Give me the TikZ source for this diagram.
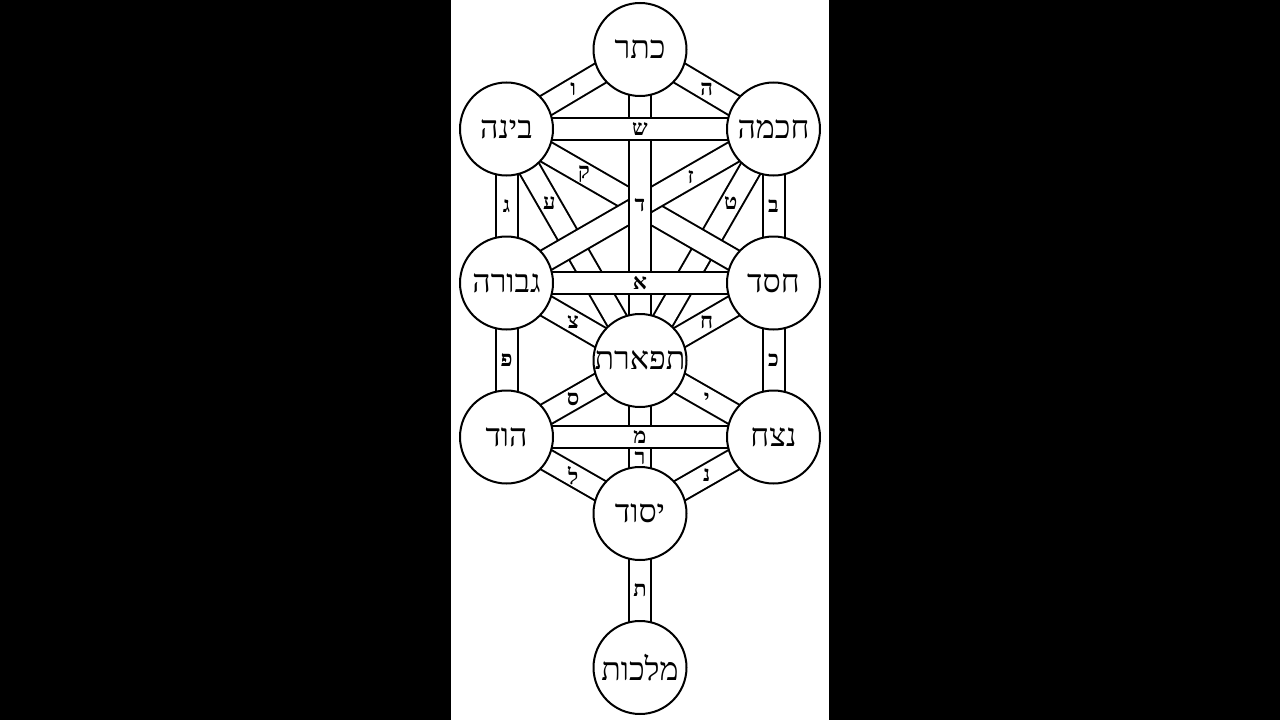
\documentclass[tikz,border=0pt]{standalone}
\usepackage{fontspec}
\newfontfamily\hebfont[Script=Hebrew]{Liberation Serif}
\TeXXeTstate=1
\pgfdeclarelayer{back}
\pgfsetlayers{back,main}

\begin{document}
\begin{tikzpicture}[x=1pt,y=1pt,yscale=-1,
  sefira/.style={circle,draw,line width=2pt,fill=white,minimum size=93pt,inner sep=0pt,
    font=\hebfont\fontsize{32}{32}\selectfont},
  channel/.style={draw=black,line width=2pt,double=white,double distance=20pt},
  letter/.style={inner sep=0pt,font=\hebfont\bfseries\fontsize{22}{22}\selectfont}]

%Shape: Circle -- the ten sefirot
\node[sefira] (keter)   at (640,49.5)  {\beginR כתר\endR};
\node[sefira] (binah)   at (506.5,129) {\beginR בינה\endR};
\node[sefira] (chokhma) at (773.5,129) {\beginR חכמה\endR};
\node[sefira] (gevura)  at (506.5,283) {\beginR גבורה\endR};
\node[sefira] (chesed)  at (773.5,283) {\beginR חסד\endR};
\node[sefira] (tiferet) at (640,360.5) {\beginR תפארת\endR};
\node[sefira] (hod)     at (506.5,437) {\beginR הוד\endR};
\node[sefira] (netzach) at (773.5,437) {\beginR נצח\endR};
\node[sefira] (yesod)   at (640,513.5) {\beginR יסוד\endR};
\node[sefira] (malkhut) at (640,667.5) {\beginR מלכות\endR};

\begin{pgfonlayer}{back}
%Shape: Rectangle
\fill[black] (0,0) rectangle (1280,720);
\fill[white] (451,0) rectangle (829,720);

%Straight Lines -- upper channels
\draw[channel] (keter.center) -- node[letter] {ו} (binah.center);
\draw[channel] (keter.center) -- node[letter] {ה} (chokhma.center);
\draw[channel] (binah.center) -- node[letter] {ג} (gevura.center);
\draw[channel] (chokhma.center) -- node[letter] {ב} (chesed.center);
\draw[channel] (gevura.center) -- node[letter] {פ} (hod.center);
\draw[channel] (chesed.center) -- node[letter] {כ} (netzach.center);

%Straight Lines -- long diagonals
\draw[channel] (binah.center) -- node[letter,pos=.32] {ע} (tiferet.center);
\draw[channel] (chokhma.center) -- node[letter,pos=.32] {ט} (tiferet.center);
\draw[channel] (binah.center) -- node[letter,pos=.29] {ק} (chesed.center);
\draw[channel] (chokhma.center) -- node[letter,pos=.31] {ז} (gevura.center);

%Straight Lines -- middle pillar
\draw[channel] (keter.center) -- node[letter] {ד} (tiferet.center);

%Straight Lines -- lower diagonals
\draw[channel] (gevura.center) -- node[letter] {צ} (tiferet.center);
\draw[channel] (chesed.center) -- node[letter] {ח} (tiferet.center);
\draw[channel] (tiferet.center) -- node[letter] {ס} (hod.center);
\draw[channel] (tiferet.center) -- node[letter] {י} (netzach.center);
\draw[channel] (hod.center) -- node[letter] {ל} (yesod.center);
\draw[channel] (netzach.center) -- node[letter] {נ} (yesod.center);
\draw[channel] (tiferet.center) -- node[letter,pos=.64] {ר} (yesod.center);

%Straight Lines -- horizontals
\draw[channel] (binah.center) -- node[letter] {ש} (chokhma.center);
\draw[channel] (gevura.center) -- node[letter] {א} (chesed.center);
\draw[channel] (hod.center) -- node[letter] {מ} (netzach.center);

\draw[channel] (yesod.center) -- node[letter] {ת} (malkhut.center);
\end{pgfonlayer}

\end{tikzpicture}
\end{document}
